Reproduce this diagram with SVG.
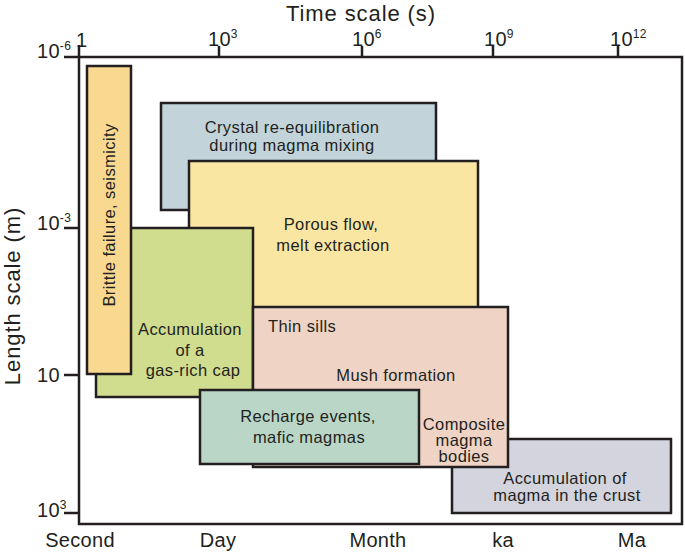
<svg xmlns="http://www.w3.org/2000/svg" width="685" height="554" viewBox="0 0 685 554">
<style>
.box{stroke:#231f20;stroke-width:2.5}
.ax{stroke:#231f20;stroke-width:2.5;fill:none}
text{font-family:"Liberation Sans",Arial,sans-serif;fill:#231f20}
.t{font-size:16.5px;letter-spacing:0.4px;text-anchor:middle}
.al{font-size:20px;letter-spacing:0.3px}
.ttl{font-size:22px;letter-spacing:0.9px;text-anchor:middle}
.sup{font-size:12px}
</style>
<rect width="685" height="554" fill="#fff"/>
<g id="axes">
<rect class="ax" x="79" y="57" width="603" height="467"/>
<path class="ax" d="M79 57V45M219 57V46M362 57V46M493 57V46M618 57V46M64 57H79M64 228H79M64 375H79M64 513H79"/>
<text class="ttl" x="361" y="21">Time scale (s)</text>
<text class="al" x="76" y="47">1</text>
<text class="al" x="208" y="46">10<tspan class="sup" dy="-8">3</tspan></text>
<text class="al" x="352" y="46">10<tspan class="sup" dy="-8">6</tspan></text>
<text class="al" x="484" y="46">10<tspan class="sup" dy="-8">9</tspan></text>
<text class="al" x="610" y="46">10<tspan class="sup" dy="-8">12</tspan></text>
<text class="al" x="37" y="58">10<tspan class="sup" dy="-8">-6</tspan></text>
<text class="al" x="37" y="230">10<tspan class="sup" dy="-8">-3</tspan></text>
<text class="al" x="37" y="382">10</text>
<text class="al" x="37" y="517">10<tspan class="sup" dy="-8">3</tspan></text>
<text class="ttl" transform="translate(20 296) rotate(-90)">Length scale (m)</text>
<text class="al" x="80" y="547" text-anchor="middle">Second</text>
<text class="al" x="218" y="547" text-anchor="middle">Day</text>
<text class="al" x="378" y="547" text-anchor="middle">Month</text>
<text class="al" x="503" y="547" text-anchor="middle">ka</text>
<text class="al" x="632" y="547" text-anchor="middle">Ma</text>
</g>
<g id="crystal">
<rect class="box" x="161" y="103" width="275" height="107" fill="#c2d4d9"/>
<text class="t" x="292" y="133">Crystal re-equilibration</text>
<text class="t" x="292" y="151">during magma mixing</text>
</g>
<g id="porous">
<rect class="box" x="189" y="161" width="289" height="152" fill="#f9e6a3"/>
<text class="t" x="331" y="230">Porous flow,</text>
<text class="t" x="333" y="251">melt extraction</text>
</g>
<g id="gascap">
<rect class="box" x="96" y="228" width="157" height="169" fill="#d0dc8e"/>
<text class="t" x="190" y="335">Accumulation</text>
<text class="t" x="190" y="356">of a</text>
<text class="t" x="193" y="376">gas-rich cap</text>
</g>
<g id="brittle">
<rect class="box" x="87" y="66" width="44" height="308" fill="#f9d990"/>
<text class="t" transform="translate(115 215) rotate(-90)">Brittle failure, seismicity</text>
</g>
<g id="crust">
<rect class="box" x="452" y="439" width="219" height="74" fill="#d3d4de"/>
<text class="t" x="565" y="484">Accumulation of</text>
<text class="t" x="567" y="501">magma in the crust</text>
</g>
<g id="mush">
<rect class="box" x="253" y="307" width="255" height="160" fill="#efd4c6"/>
<text x="268" y="332" font-size="16.5" letter-spacing="0.4">Thin sills</text>
<text class="t" x="396" y="381">Mush formation</text>
<text class="t" x="464" y="430" font-size="16px">Composite</text>
<text class="t" x="464" y="446" font-size="16px">magma</text>
<text class="t" x="464" y="462" font-size="16px">bodies</text>
</g>
<g id="recharge">
<rect class="box" x="200" y="390" width="219" height="74" fill="#b9d6c7"/>
<text class="t" x="308" y="422">Recharge events,</text>
<text class="t" x="309" y="443">mafic magmas</text>
</g>
<g id="connectors"></g>
</svg>
